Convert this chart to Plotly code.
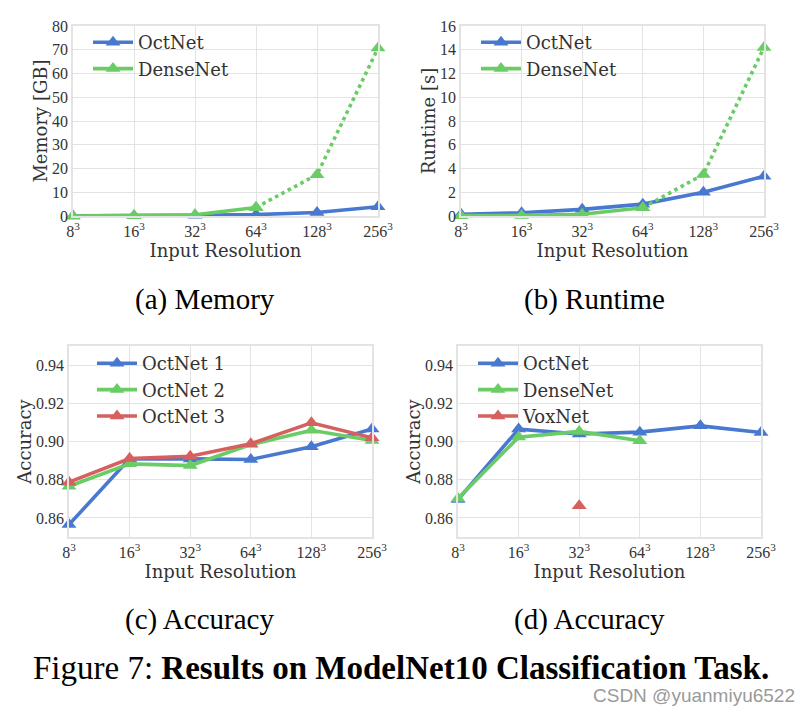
import plotly.graph_objects as go

# ---------------- data ----------------
resolutions = [0, 1, 2, 3, 4, 5]
res_labels = ["8<sup>3</sup>", "16<sup>3</sup>", "32<sup>3</sup>", "64<sup>3</sup>", "128<sup>3</sup>", "256<sup>3</sup>"]

mem_octnet = [0.05, 0.1, 0.3, 0.6, 1.5, 3.9]
mem_densenet = [0.02, 0.1, 0.5, 3.6, 17.4, 70.7]

rt_octnet = [0.15, 0.28, 0.56, 1.0, 2.0, 3.35]
rt_densenet = [0.03, 0.05, 0.15, 0.7, 3.5, 14.2]

acc_c_octnet1 = [0.8565, 0.8909, 0.8909, 0.8906, 0.8972, 0.9066]
acc_c_octnet2 = [0.8766, 0.8883, 0.8874, 0.8984, 0.9059, 0.9005]
acc_c_octnet3 = [0.8787, 0.8911, 0.8923, 0.8988, 0.9098, 0.9019]

acc_d_octnet = [0.8696, 0.9065, 0.9039, 0.9049, 0.9082, 0.9047]
acc_d_densenet = [0.8702, 0.9023, 0.9053, 0.9004]
acc_d_voxnet_x = [2]
acc_d_voxnet = [0.8663]

captions = ["(a) Memory", "(b) Runtime", "(c) Accuracy", "(d) Accuracy"]
fig_caption = "Figure 7: <b>Results on ModelNet10 Classification Task.</b>"
watermark = "CSDN @yuanmiyu6522"

# ---------------- style ----------------
BLUE = "#4878CF"
GREEN = "#6ACC65"
RED = "#D65F5F"
GRID = "#e3e3e3"
TXT = "#333333"
SERIF = "DejaVu Serif"
TICKFONT = "Liberation Serif"
LW = 3.6
MS = 13

W, H = 812, 717
OFF = 8  # page body margin
def px(x):
    return (x - OFF) / W
def py(y):
    return 1 - (y - OFF) / H

fig = go.Figure()

def add(xs, ys, color, name, ax, legend, show=True, dash="solid"):
    fig.add_trace(go.Scatter(
        x=xs, y=ys, mode="lines+markers", name=name,
        line=dict(color=color, width=LW, dash=dash),
        marker=dict(symbol="triangle-up", size=MS, color=color),
        xaxis="x" + ax, yaxis="y" + ax, legend=legend, showlegend=show,
        cliponaxis=False,
    ))

# (a)
add(resolutions, mem_octnet, BLUE, "OctNet", "", "legend")
add(resolutions[:4], mem_densenet[:4], GREEN, "DenseNet", "", "legend")
add(resolutions[3:], mem_densenet[3:], GREEN, "DenseNet", "", "legend", show=False, dash="dot")
# (b)
add(resolutions, rt_octnet, BLUE, "OctNet", "2", "legend2")
add(resolutions[:4], rt_densenet[:4], GREEN, "DenseNet", "2", "legend2")
add(resolutions[3:], rt_densenet[3:], GREEN, "DenseNet", "2", "legend2", show=False, dash="dot")
# (c)
add(resolutions, acc_c_octnet1, BLUE, "OctNet 1", "3", "legend3")
add(resolutions, acc_c_octnet2, GREEN, "OctNet 2", "3", "legend3")
add(resolutions, acc_c_octnet3, RED, "OctNet 3", "3", "legend3")
# (d)
add(resolutions, acc_d_octnet, BLUE, "OctNet", "4", "legend4")
add(resolutions[:len(acc_d_densenet)], acc_d_densenet, GREEN, "DenseNet", "4", "legend4")
add(acc_d_voxnet_x, acc_d_voxnet, RED, "VoxNet", "4", "legend4")

# axes
domains = {
    "": ((73, 378), (26, 216)),
    "2": ((461, 764), (26, 216)),
    "3": ((69, 372), (346, 537)),
    "4": ((458, 761), (346, 537)),
}
acc_ticks = [0.86, 0.88, 0.90, 0.92, 0.94]
acc_ticktext = ["0.86", "0.88", "0.90", "0.92", "0.94"]
yconf = {
    "": dict(range=[0, 80], dtick=10, title="Memory [GB]"),
    "2": dict(range=[0, 16], dtick=2, title="Runtime [s]"),
    "3": dict(range=[0.85, 0.95], tickvals=acc_ticks, ticktext=acc_ticktext, title="Accuracy"),
    "4": dict(range=[0.85, 0.95], tickvals=acc_ticks, ticktext=acc_ticktext, title="Accuracy"),
}

layout = dict(
    width=W, height=H, margin=dict(l=0, r=0, t=0, b=0),
    paper_bgcolor="white", plot_bgcolor="white",
    font=dict(family=SERIF, color=TXT),
)
for ax, ((x0, x1), (y0, y1)) in domains.items():
    layout["xaxis" + ax] = dict(
        domain=[px(x0), px(x1)], anchor="y" + ax, range=[0, 5],
        tickvals=resolutions, ticktext=res_labels,
        showgrid=True, gridcolor=GRID, gridwidth=1,
        showline=True, linecolor=GRID, mirror=True, linewidth=1.5,
        zeroline=False, ticks="", tickfont=dict(size=16, family=TICKFONT, color=TXT),
        title=dict(text="Input Resolution", font=dict(size=18, family=SERIF, color=TXT), standoff=0),
        automargin=False,
    )
    yc = yconf[ax]
    yd = dict(
        domain=[py(y1), py(y0)], anchor="x" + ax, range=yc["range"],
        showgrid=True, gridcolor=GRID, gridwidth=1,
        showline=True, linecolor=GRID, mirror=True, linewidth=1.5,
        zeroline=False, ticks="", tickfont=dict(size=16, family=TICKFONT, color=TXT),
        title=dict(text=yc["title"], font=dict(size=18, family=SERIF, color=TXT), standoff=0),
        automargin=False,
    )
    if "dtick" in yc:
        yd["dtick"] = yc["dtick"]
    else:
        yd["tickvals"] = yc["tickvals"]
        yd["ticktext"] = yc["ticktext"]
    layout["yaxis" + ax] = yd

legpos = {
    "legend": (88, 24),
    "legend2": (476, 24),
    "legend3": (92, 345),
    "legend4": (473, 345),
}
for name, (lx, ly) in legpos.items():
    layout[name] = dict(
        x=px(lx), y=py(ly), xanchor="left", yanchor="top",
        bgcolor="rgba(0,0,0,0)", borderwidth=0,
        font=dict(size=18, family=SERIF, color=TXT),
        itemwidth=40, tracegroupgap=0,
    )

fig.update_layout(**layout)

cap_pos = [(205, 299), (594, 299), (199, 619), (589, 619)]
for text, (cx, cy) in zip(captions, cap_pos):
    fig.add_annotation(text=text, x=px(cx), y=py(cy), xref="paper", yref="paper",
                       showarrow=False, xanchor="center", yanchor="middle",
                       font=dict(family="Liberation Serif", size=29, color="black"))
fig.add_annotation(text=fig_caption, x=px(401), y=py(668), xref="paper", yref="paper",
                   showarrow=False, xanchor="center", yanchor="middle",
                   font=dict(family="Liberation Serif", size=33, color="black"))
fig.add_annotation(text=watermark, x=px(797), y=py(695), xref="paper", yref="paper",
                   showarrow=False, xanchor="right", yanchor="middle",
                   font=dict(family="Liberation Sans", size=19, color="#9a9a9a"))

fig.write_html("out.html")
